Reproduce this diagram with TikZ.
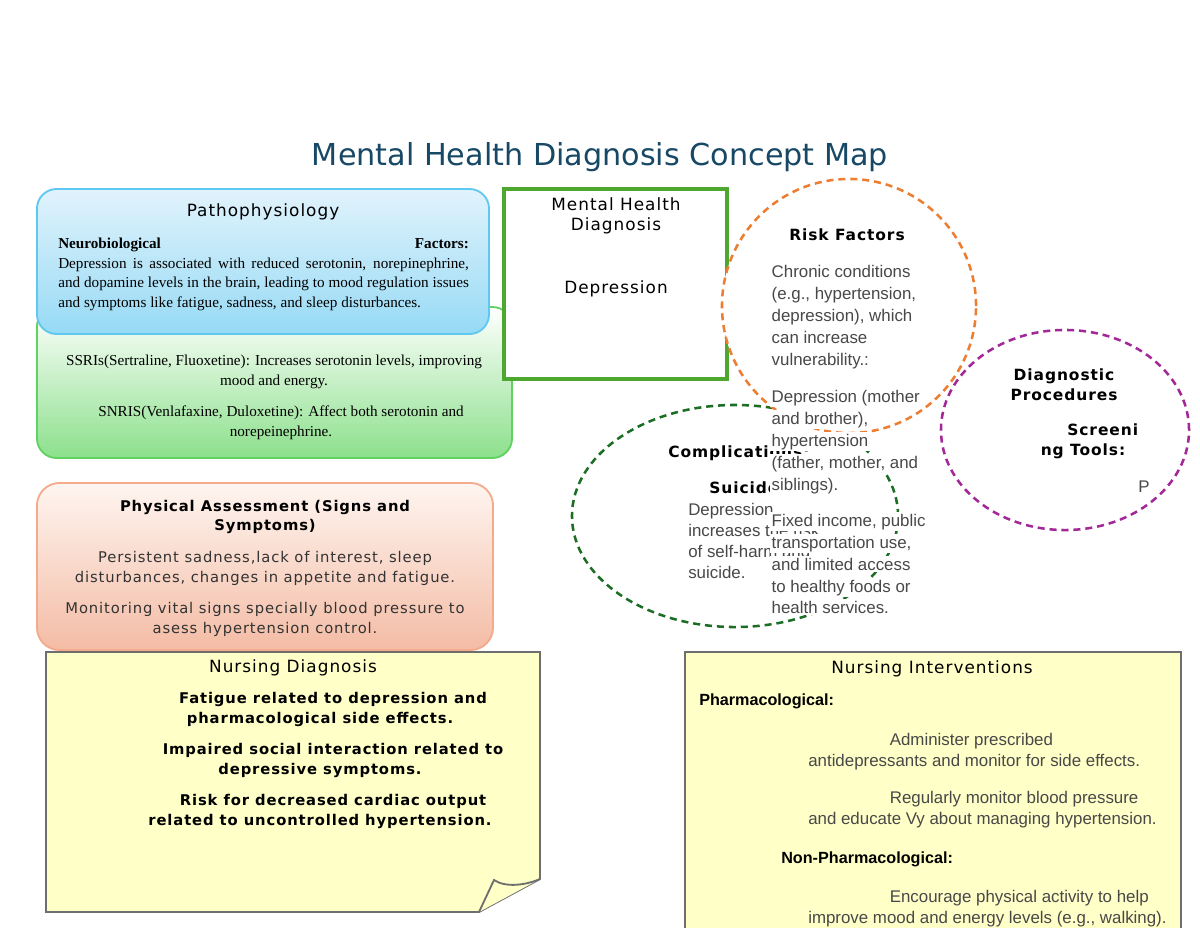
\documentclass[tikz,border=0pt]{standalone}
\usepackage{fontspec}
\setmainfont{Liberation Serif}
\newfontfamily\headfont[LetterSpace=6]{DejaVu Sans}
\newfontfamily\titlefont{DejaVu Sans}
\newfontfamily\arialfont{Liberation Sans}
\usepackage{tikz}
\usetikzlibrary{positioning,shapes.geometric}
\definecolor{titleblue}{RGB}{23,72,102}
\definecolor{skyline}{RGB}{95,200,240}
\definecolor{skytop}{RGB}{225,243,252}
\definecolor{skybot}{RGB}{150,218,245}
\definecolor{leafline}{RGB}{95,210,95}
\definecolor{leafbot}{RGB}{140,224,140}
\definecolor{mhdgreen}{RGB}{78,167,46}
\definecolor{riskorange}{RGB}{237,125,49}
\definecolor{compgreen}{RGB}{28,110,36}
\definecolor{diagpurple}{RGB}{162,40,152}
\definecolor{salmonline}{RGB}{244,170,140}
\definecolor{salmontop}{RGB}{254,245,240}
\definecolor{salmonbot}{RGB}{244,188,165}
\definecolor{notefill}{RGB}{255,255,200}
\definecolor{noteline}{RGB}{110,110,110}
\definecolor{softtext}{RGB}{72,72,72}
\tikzset{
  maintitle/.style={font=\titlefont\fontsize{21.5}{26}\selectfont,text=titleblue,inner sep=0pt},
  roundbox/.style={draw,line width=1.3pt,rounded corners=14pt,inner sep=0pt},
  bluebox/.style={roundbox,draw=skyline,top color=skytop,bottom color=skybot},
  greenbox/.style={roundbox,draw=leafline,top color=white,bottom color=leafbot},
  salmonbox/.style={roundbox,draw=salmonline,top color=salmontop,bottom color=salmonbot,rounded corners=16pt},
  mhdbox/.style={draw=mhdgreen,line width=2.8pt,fill=white,inner sep=0pt},
  ring/.style={ellipse,line width=1.8pt,dash pattern=on 5pt off 3.5pt,inner sep=0pt},
  note/.style={draw=noteline,line width=1.3pt,fill=notefill,line join=miter},
  heading/.style={font=\headfont\fontsize{12}{14.2}\selectfont,align=center,inner sep=0pt},
  headbold/.style={font=\headfont\bfseries\fontsize{11}{14.2}\selectfont,align=center,inner sep=0pt},
  dxbold/.style={font=\headfont\bfseries\fontsize{10.5}{13.9}\selectfont,align=center,inner sep=0pt},
  dxbody/.style={font=\headfont\fontsize{10.5}{14.2}\selectfont,text=black!80,align=center,inner sep=0pt},
  timesbody/.style={font=\fontsize{10.8}{14.2}\selectfont,align=center,inner sep=0pt},
  armbody/.style={font=\arialfont\fontsize{12}{15}\selectfont,text=softtext,align=left,inner sep=0pt},
  armbold/.style={font=\arialfont\bfseries\fontsize{11.5}{15}\selectfont,inner sep=0pt},
  risktext/.style={armbody,fill=white,inner sep=1pt,anchor=base west}
}

\begin{document}
\begin{tikzpicture}[x=0.025cm,y=-0.025cm]
  \clip (0,0) rectangle (1200,927);
  \fill[white] (0,0) rectangle (1200,927);

  \node[maintitle] (title) at (600,157) {Mental Health Diagnosis Concept Map};

  % pharmacology box, partly under the pathophysiology box
  \node[greenbox,minimum width=11.875cm,minimum height=3.775cm] (pharm) at (274.5,382.5) {};
  \node[timesbody] (ssri) at (274,372) {SSRIs(Sertraline, Fluoxetine): Increases serotonin levels, improving\\mood and energy.};
  \node[timesbody] (snri) at (281,423) {SNRIS(Venlafaxine, Duloxetine): Affect both serotonin and\\norepeinephrine.};

  % pathophysiology
  \node[bluebox,minimum width=11.3cm,minimum height=3.625cm] (patho) at (263,261.5) {};
  \node[heading] (pathotitle) at (263,212) {Pathophysiology};
  \node[font=\fontsize{10.8}{13.9}\selectfont,align=left,inner sep=0pt,anchor=north west] (pathotext) at (58,238)
    {\makebox[292pt][s]{\textbf{Neurobiological}\hfill\textbf{Factors:}}\\
     \makebox[292pt][s]{Depression is associated with reduced serotonin, norepinephrine,}\\
     \makebox[292pt][s]{and dopamine levels in the brain, leading to mood regulation issues}\\
     and symptoms like fatigue, sadness, and sleep disturbances.};

  % central diagnosis
  \node[mhdbox,minimum width=5.575cm,minimum height=4.75cm] (mhd) at (615.5,284) {};
  \node[heading] (mhdtitle) at (616,216) {Mental Health\\Diagnosis};
  \node[heading] (mhddx) at (616,289) {Depression};

  % complications
  \node[ring,draw=compgreen,minimum width=8.15cm,minimum height=5.55cm] (compl) at (735,516) {};
  \node[headbold,anchor=base west] (compltitle) at (668,457) {Complications:};
  \node[headbold,anchor=base west] (suicide) at (709,493) {Suicide:};
  \node[armbody,anchor=north west] (compltext) at (688,503) {Depression\\increases the risk\\of self-harm and\\suicide.};

  % diagnostic procedures
  \node[ring,draw=diagpurple,minimum width=6.2cm,minimum height=5cm] (diag) at (1065,430) {};
  \node[headbold] (diagtitle) at (1064,385) {Diagnostic\\Procedures};
  \node[headbold] (screen) at (1083,441) {\hspace*{28pt}Screeni\\ng Tools:};
  \node[armbody,anchor=base west] (pfrag) at (1138,492) {P};

  % risk factors
  \node[ring,circle,draw=riskorange,fill=white,minimum size=6.35cm] (risk) at (849,306) {};
  \node[headbold] (risktitle) at (847,235) {Risk Factors};
  \foreach \i/\yy/\txt in {1/277/{Chronic conditions},2/299/{(e.g., hypertension,},
      3/321/{depression), which},4/343/{can increase},5/365/{vulnerability.:},
      6/402/{Depression (mother},7/424/{and brother),},8/446/{hypertension},
      9/468/{(father, mother, and},10/490/{siblings).},11/526/{Fixed income, public},
      12/548/{transportation use,},13/570/{and limited access},
      14/592/{to healthy foods or},15/613/{health services.}}
    \node[risktext] (risk\i) at (770,\yy) {\txt};

  % physical assessment
  \node[salmonbox,minimum width=11.4cm,minimum height=4.175cm] (phys) at (265,566.5) {};
  \node[dxbold] (phystitle) at (265,517) {Physical Assessment (Signs and\\Symptoms)};
  \node[dxbody] (phys1) at (265,568) {Persistent sadness,lack of interest, sleep\\disturbances, changes in appetite and fatigue.};
  \node[dxbody] (phys2) at (265,619) {Monitoring vital signs specially blood pressure to\\asess hypertension control.};

  % nursing diagnosis note
  \draw[note] (46,652) -- (540,652) -- (540,879) -- (479,912) -- (46,912) -- cycle;
  \draw[note] (479,912) -- (494,880) .. controls (506,888) and (526,885) .. (540,879);
  \node[heading,anchor=north] (ndtitle) at (293,659) {Nursing Diagnosis};
  \node[dxbold,anchor=north] (nd1) at (320,692) {\hspace*{18.5pt}Fatigue related to depression and\\pharmacological side effects.};
  \node[dxbold,anchor=north] (nd2) at (320,743) {\hspace*{18.5pt}Impaired social interaction related to\\depressive symptoms.};
  \node[dxbold,anchor=north] (nd3) at (320,794) {\hspace*{18.5pt}Risk for decreased cardiac output\\related to uncontrolled hypertension.};

  % nursing interventions
  \draw[note] (685,652) rectangle (1181,960);
  \node[heading,anchor=north] (nititle) at (932,660) {Nursing Interventions};
  \node[armbold,anchor=base west] (nipharm) at (699,705) {Pharmacological:};
  \node[armbody,anchor=north west] (ni1) at (808,733) {\hspace*{58pt}Administer prescribed\\antidepressants and monitor for side effects.};
  \node[armbody,anchor=north west] (ni2) at (808,791) {\hspace*{58pt}Regularly monitor blood pressure\\and educate Vy about managing hypertension.};
  \node[armbold,anchor=base west] (ninonpharm) at (781,863) {Non-Pharmacological:};
  \node[armbody,anchor=north west] (ni3) at (808,890) {\hspace*{58pt}Encourage physical activity to help\\improve mood and energy levels (e.g., walking).};
\end{tikzpicture}
\end{document}
